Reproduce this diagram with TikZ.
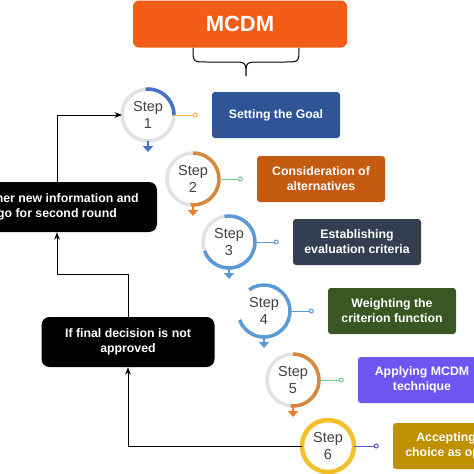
\documentclass[tikz,border=0pt]{standalone}
\usepackage{fontspec}
\setmainfont{Liberation Sans}
\usetikzlibrary{arrows.meta}
\definecolor{mcdm}{RGB}{242,92,22}
\definecolor{goal}{RGB}{47,85,151}
\definecolor{alt}{RGB}{197,90,17}
\definecolor{crit}{RGB}{51,63,80}
\definecolor{weight}{RGB}{56,87,35}
\definecolor{apply}{RGB}{112,84,240}
\definecolor{accept}{RGB}{191,144,0}
\definecolor{ring}{RGB}{226,226,226}
\definecolor{stext}{RGB}{64,64,64}
\definecolor{arcblue}{RGB}{68,114,196}
\definecolor{skyblue}{RGB}{91,155,213}
\definecolor{arcorange}{RGB}{214,136,62}
\definecolor{downorange}{RGB}{237,125,49}
\definecolor{tyellow}{RGB}{240,180,60}
\definecolor{tgreen}{RGB}{112,200,140}
\definecolor{tviolet}{RGB}{84,84,200}
\definecolor{gold}{RGB}{242,192,40}
\begin{document}
\begin{tikzpicture}[x=1pt,y=-1pt,>=Stealth,line cap=round,line join=round,
stp/.style={circle,draw=ring,line width=3.5pt,minimum size=52pt,inner sep=0pt,outer sep=0pt,align=center,text=stext,font=\fontsize{14.5}{17}\selectfont},
box/.style={rounded corners=3pt,minimum width=128pt,minimum height=46pt,align=center,text=white,font=\fontsize{12.3}{15}\selectfont\bfseries},
dark/.style={box,fill=black,rounded corners=8pt,minimum height=50pt},
ringarc/.style={line width=3.5pt,line cap=butt},
tick/.style={line width=1pt,-{Circle[open,length=5pt,width=5pt,fill=white]}},
down/.style={line width=2.5pt,line cap=butt,-{Triangle[length=6pt,width=10pt]}}]
\useasboundingbox (0,0) rectangle (474,474);
\clip (0,0) rectangle (474,474);
\path (240,24)node[fill=mcdm,rounded corners=6pt,minimum width=214pt,minimum height=47pt,text=white,font=\fontsize{22}{26}\selectfont\bfseries](top){MCDM};
\draw[line width=1pt] (193,48) .. controls (193,62) .. (207,62) -- (232,62) .. controls (246,62) .. (246,76) .. controls (246,62) .. (260,62) -- (285,62) .. controls (299,62) .. (299,48);
\path (148,115)node[stp](s1){Step\\1} ++(128,0)node[box,fill=goal](b1){Setting the Goal}
(193,179)node[stp](s2){Step\\2} ++(128,0)node[box,fill=alt](b2){Consideration of\\alternatives}
(229,242)node[stp](s3){Step\\3} ++(128,0)node[box,fill=crit](b3){Establishing\\evaluation criteria}
(264,311)node[stp,draw=none](s4){Step\\4} ++(128,0)node[box,fill=weight](b4){Weighting the\\criterion function}
(293,380)node[stp](s5){Step\\5} ++(129,0)node[box,fill=apply](b5){Applying MCDM\\technique}
(328,446)node[stp,draw=gold,line width=4.5pt](s6){Step\\6} ++(129,0)node[box,fill=accept](b6){Accepting the\\choice as optimal}
(57,207)node[dark,minimum width=200pt](lb){Gather new information and\\go for second round}
(128,342)node[dark,minimum width=173pt](fd){If final decision is not\\approved};
\draw[ringarc,arcblue] (s1.95) arc[start angle=95,end angle=0,radius=26pt];
\draw[ringarc,arcorange] (s2.90) arc[start angle=90,end angle=-95,radius=26pt];
\draw[ringarc,skyblue] (s3.100) arc[start angle=100,end angle=-160,radius=26pt];
\draw[ringarc,skyblue] (s4.125) arc[start angle=125,end angle=-160,radius=26pt];
\draw[ringarc,arcorange] (s5.90) arc[start angle=90,end angle=-95,radius=26pt];
\draw[tick,tyellow] (s1.east) -- ([xshift=-14pt]b1.west);
\draw[tick,tgreen] (s2.east) -- ([xshift=-14pt]b2.west);
\draw[tick,skyblue] (s3.east) -- ([xshift=-14pt]b3.west);
\draw[tick,skyblue] (s4.east) -- ([xshift=-14pt]b4.west);
\draw[tick,tgreen] (s5.east) -- ([xshift=-14pt]b5.west);
\draw[tick,tviolet] (s6.east) -- ([xshift=-14pt]b6.west);
\draw[down,arcblue] (s1.south) -- ++(0,11);
\draw[down,downorange] (s2.south) -- ++(0,11);
\draw[down,skyblue] (s3.south) -- ++(0,11);
\draw[down,skyblue] (s4.south) -- ++(0,11);
\draw[down,downorange] (s5.south) -- ++(0,11);
\draw[->,line width=1pt] (s6.west) -| (fd.south);
\draw[->,line width=1pt] (fd.north) -- ++(0,-42) -| (lb.south);
\draw[->,line width=1pt] (lb.north) |- (s1.west);
\end{tikzpicture}
\end{document}
